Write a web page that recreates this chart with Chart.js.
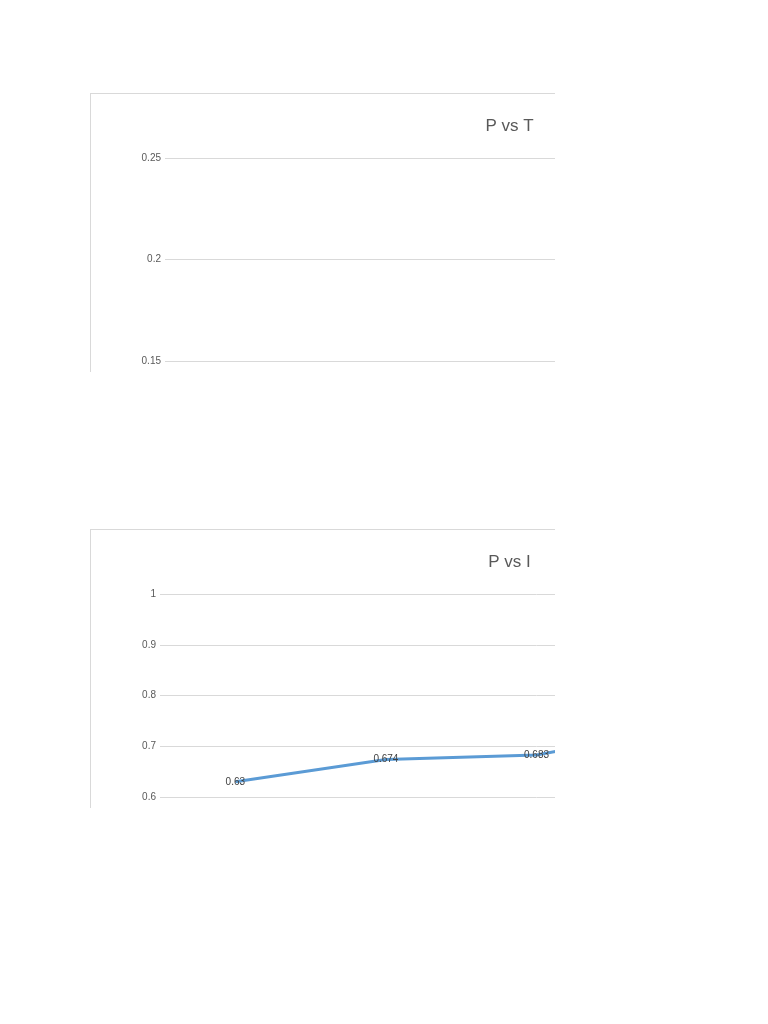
<!DOCTYPE html>
<html>
<head>
<meta charset="utf-8">
<script src="https://cdn.jsdelivr.net/npm/chart.js@4"></script>
<style>
  body { margin: 0; background: #fff; font-family: Calibri, "Liberation Sans", "Open Sans", sans-serif; }
  .clip { position: absolute; overflow: hidden; }
  .frame { position: absolute; left: 0; top: 0; border: 1px solid #d9d9d9; background: #fff; }
  canvas { display: block; }
</style>
</head>
<body>
<div class="clip" style="left:90px; top:93px; width:465px; height:279px;">
  <div class="frame" style="width:838px; height:320px;"><canvas id="chartT"></canvas></div>
</div>
<div class="clip" style="left:90px; top:529px; width:465px; height:279px;">
  <div class="frame" style="width:838px; height:320px;"><canvas id="chartI"></canvas></div>
</div>
<script>
// values
const tCategories = ['1', '2', '3', '4', '5'];
const tValues = [];           // no points fall inside the visible part
const tTicks = [0.15, 0.2, 0.25];

const iCategories = ['1', '2', '3', '4', '5'];
const iValues = [0.63, 0.674, 0.683, 0.738, null];
const iTicks = [0.6, 0.7, 0.8, 0.9, 1];

// small plugin to write the value on each point (like Excel data labels)
const pointLabels = {
  id: 'pointLabels',
  afterDatasetsDraw(chart) {
    const ctx = chart.ctx;
    chart.data.datasets.forEach((ds, i) => {
      chart.getDatasetMeta(i).data.forEach((pt, j) => {
        const v = ds.data[j];
        if (v === null || v === undefined) return;
        ctx.save();
        ctx.font = '10px "Liberation Sans", sans-serif';
        ctx.fillStyle = '#404040';
        ctx.textAlign = 'center';
        ctx.textBaseline = 'middle';
        ctx.fillText(String(v), pt.x, pt.y);
        ctx.restore();
      });
    });
  }
};

function makeChart(id, title, cats, values, ticks, axisWidth) {
  const ctx = document.getElementById(id).getContext('2d');
  return new Chart(ctx, {
    type: 'line',
    data: {
      labels: cats,
      datasets: [{
        data: values,
        borderColor: '#5b9bd5',
        borderWidth: 3,
        pointRadius: 0,
        fill: false,
        tension: 0
      }]
    },
    options: {
      responsive: false,
      animation: false,
      devicePixelRatio: 1,
      layout: { padding: { left: 15, right: 16, top: 12, bottom: 45 } },
      plugins: {
        legend: { display: false },
        tooltip: { enabled: false },
        title: {
          display: true,
          text: title,
          color: '#595959',
          font: { size: 17, family: '"Liberation Sans", sans-serif', weight: 'normal' },
          padding: { top: 10, bottom: 22 }
        }
      },
      scales: {
        x: {
          offset: true,
          ticks: { display: false },
          grid: { display: false },
          border: { display: false }
        },
        y: {
          min: ticks[0],
          max: ticks[ticks.length - 1],
          afterBuildTicks: axis => { axis.ticks = ticks.map(v => ({ value: v })); },
          afterFit: axis => { axis.width = axisWidth; },
          ticks: {
            color: '#595959',
            font: { size: 10, family: '"Liberation Sans", sans-serif' },
            padding: 4,
            callback: v => String(v)
          },
          grid: { color: '#d9d9d9', drawTicks: false },
          border: { display: false }
        }
      }
    },
    plugins: [pointLabels]
  });
}

function sizeCanvas(id, w, h) {
  const c = document.getElementById(id);
  c.width = w; c.height = h;
  c.style.width = w + 'px'; c.style.height = h + 'px';
}

sizeCanvas('chartT', 838, 320);
sizeCanvas('chartI', 838, 320);
makeChart('chartT', 'P vs T', tCategories, tValues, tTicks, 59);
makeChart('chartI', 'P vs I', iCategories, iValues, iTicks, 54);
</script>
</body>
</html>
